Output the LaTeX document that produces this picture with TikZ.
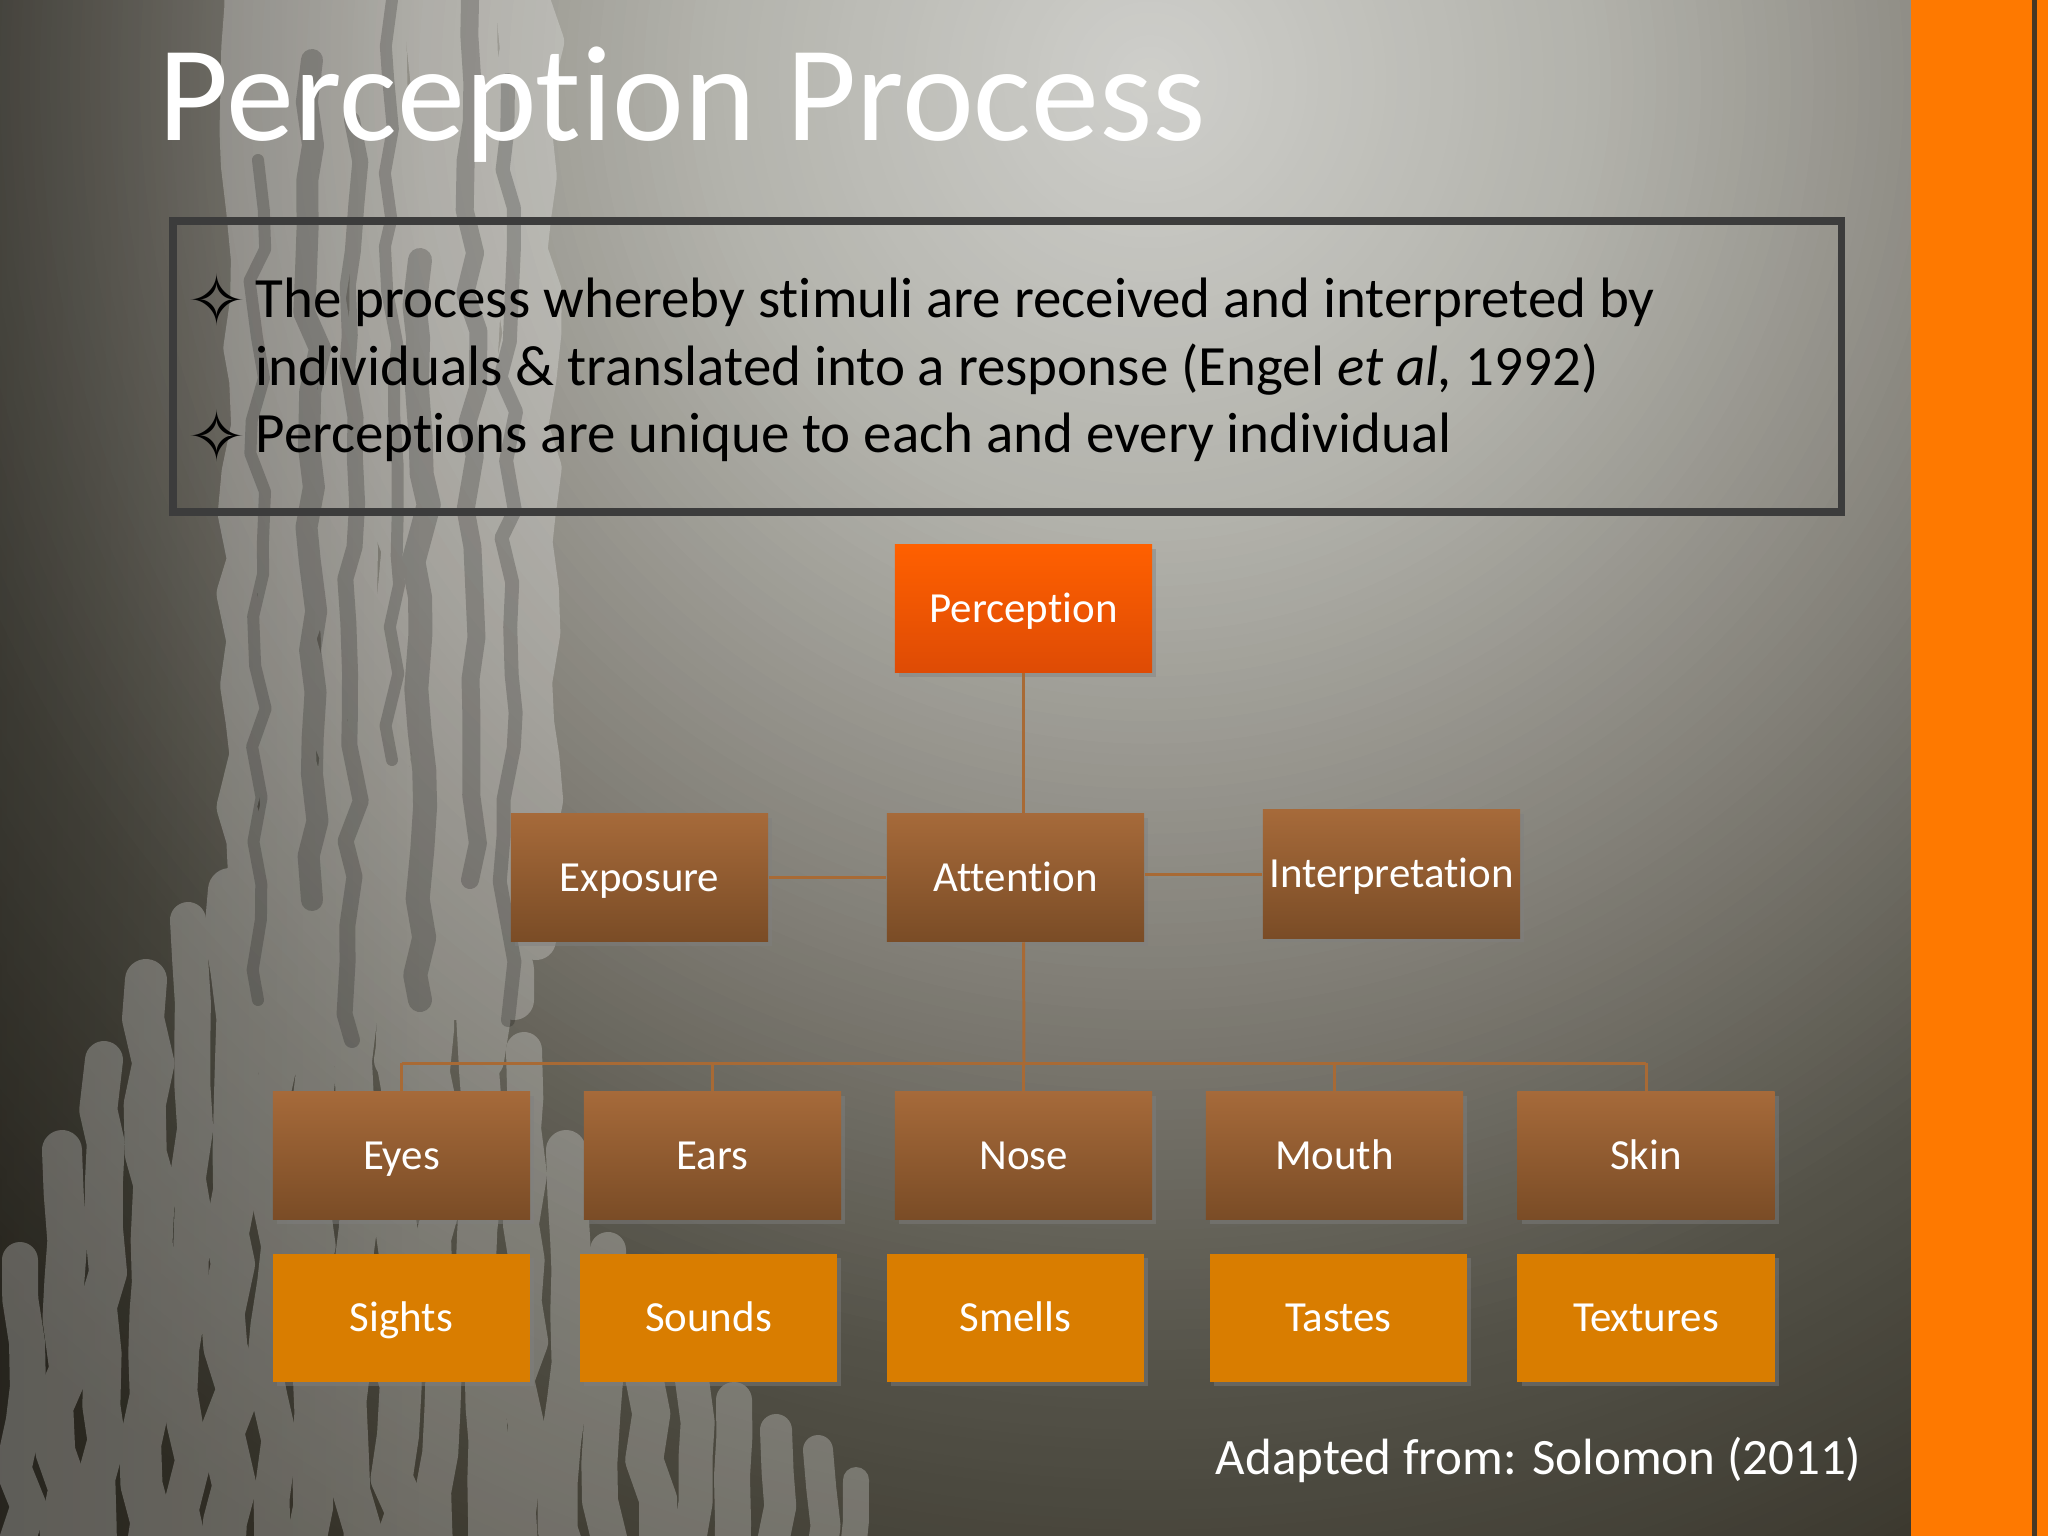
\documentclass[tikz,border=0pt]{standalone}
\usepackage{fontspec}
\setmainfont{Carlito}[Ligatures={NoCommon}]
\newfontfamily\symfont{DejaVu Sans}
\usetikzlibrary{
    positioning, calc, fadings,
    shadows, decorations.pathmorphing
}
\definecolor{colBgLight}{RGB}{207, 207, 203}
\definecolor{colBgMid}{RGB}{178, 178, 171}
\definecolor{colBgGrey}{RGB}{130, 127, 119}
\definecolor{colBgDark}{RGB}{84, 82, 72}
\definecolor{colBgDeep}{RGB}{56, 53, 43}
\definecolor{colBar}{RGB}{254, 121, 0}
\definecolor{colBarLine}{RGB}{70, 56, 36}
\definecolor{colFrame}{RGB}{60, 60, 60}
\definecolor{colTopA}{RGB}{255, 96, 0}
\definecolor{colTopB}{RGB}{222, 75, 5}
\definecolor{colBrownA}{RGB}{166, 106, 58}
\definecolor{colBrownB}{RGB}{122, 76, 38}
\definecolor{colSense}{RGB}{217, 125, 0}
\definecolor{colLink}{RGB}{168, 106, 53}

\tikzset{
    chartbox/.style={minimum width=2.57cm, minimum height=1.28cm, inner sep=0pt,
        text=white, font=\fontsize{12.2}{14}\selectfont, text height=7.8pt, text depth=0pt,
        drop shadow={shadow xshift=1.2pt, shadow yshift=-1.2pt, opacity=.45}},
    topbox/.style={chartbox, top color=colTopA, bottom color=colTopB},
    stagebox/.style={chartbox, top color=colBrownA, bottom color=colBrownB},
    sensebox/.style={chartbox, fill=colSense},
    link/.style={draw=colLink, line width=0.85pt},
    drip/.style={line cap=round, line join=round,
        decorate, decoration={random steps, segment length=12pt, amplitude=2.5pt}},
    bullettext/.style={anchor=base west, inner sep=0pt, font=\fontsize{16.2}{19}\selectfont},
    bulletmark/.style={inner sep=0pt, font=\symfont\fontsize{20}{20}\selectfont}
}

\begin{document}
\begin{tikzpicture}[x=0.01cm, y=-0.01cm]
    \useasboundingbox (0,0) rectangle (2048,1536);

    % --- background ---
    \begin{scope}
        \clip (0,0) rectangle (1911,1536);
        \fill[colBgDeep] (0,0) rectangle (1911,1536);
        % rings of the light spot
        \foreach \ro/\ri/\co/\ci in {1700/1300/colBgDeep/colBgDark, 1300/900/colBgDark/colBgGrey,
            900/450/colBgGrey/colBgMid, 450/0/colBgMid/colBgLight} {
            \foreach \k in {0,...,39} {
                \pgfmathsetmacro\rr{\ro-(\ro-\ri)/40*\k}
                \pgfmathtruncatemacro\pp{100-2.5*\k}
                \fill[\co!\pp!\ci] (1150,80) circle (\rr);
            }
        }
        \fill[black, fill opacity=.3, path fading=east] (0,0) rectangle (420,1536);
        \pgfmathsetseed{11}
        % light band (upper) and camouflage (lower)
        \begin{scope}[transparency group, opacity=.26]
            \foreach \x/\yb in {244/1000, 274/1060, 304/980, 334/1040, 364/1000, 394/1060,
                424/1020, 454/1000, 484/1060, 514/1000, 536/940} {
                \draw[drip, white, line width=0.4cm] (\x,-40) -- (\x,\yb);
            }
            \foreach \x/\ya/\w in {20/1260/36, 62/1150/40, 104/1060/38, 146/980/42, 188/920/36,
                230/890/44, 272/900/36, 314/870/40, 356/900/38, 398/880/42, 440/940/36,
                482/980/40, 524/1050/36, 566/1150/40, 608/1250/36, 650/1330/38, 692/1380/34,
                734/1400/36, 776/1430/32, 818/1450/30, 856/1480/26} {
                \draw[drip, white, line width=\w*0.01cm] (\x,\ya) -- (\x,1600);
            }
        \end{scope}
        % dark stripes inside the band
        \begin{scope}[transparency group, opacity=.2]
            \foreach \x/\ya/\yb/\w in {258/160/1000/12, 312/60/900/22, 352/120/1040/16,
                392/0/760/12, 420/260/1000/24, 470/0/880/18, 508/80/1020/14} {
                \draw[drip, black, line width=\w*0.01cm] (\x,\ya) -- (\x,\yb);
            }
        \end{scope}
    \end{scope}

    % --- orange side bar ---
    \fill[colBar] (1911,0) rectangle (2048,1536);
    \fill[colBarLine] (2032,0) rectangle (2037,1536);

    % --- title and definition box ---
    \node[anchor=base west, inner sep=0pt, text=white, font=\fontsize{38.7}{40}\selectfont] (title) at (158,140) {Perception Process};
    \draw[colFrame, line width=2pt] (173,221) rectangle (1841,512);
    \node[bulletmark] (bulA) at (217,300) {✧};
    \node[bulletmark] (bulB) at (217,436) {✧};
    \node[bullettext] (lineA) at (255,317) {The process whereby stimuli are received and interpreted by};
    \node[bullettext] (lineB) at (255,385) {individuals \& translated into a response (Engel \textit{et al,} 1992)};
    \node[bullettext] (lineC) at (255,452) {Perceptions are unique to each and every individual};

    % --- chart ---
    \node[topbox] (perc) at (1023.5,608.5) {Perception};
    \node[stagebox] (expo) at (639.5,877.5) {Exposure};
    \node[stagebox] (att) at (1015.5,877.5) {Attention};
    \node[stagebox] (interp) at (1391.5,874) {Interpretation};

    \node[stagebox] (eyes) at (401.5,1155.5) {Eyes};
    \node[stagebox] (ears) at (712.5,1155.5) {Ears};
    \node[stagebox] (nose) at (1023.5,1155.5) {Nose};
    \node[stagebox] (mouth) at (1334.5,1155.5) {Mouth};
    \node[stagebox] (skin) at (1646,1155.5) {Skin};

    \node[sensebox] (sights) at (401.5,1318) {Sights};
    \node[sensebox] (sounds) at (708.5,1318) {Sounds};
    \node[sensebox] (smells) at (1015.5,1318) {Smells};
    \node[sensebox] (tastes) at (1338.5,1318) {Tastes};
    \node[sensebox] (textures) at (1646,1318) {Textures};

    % connectors
    \coordinate (bus) at (1024,1063);
    \draw[link] (perc.south) -- (perc.south |- att.north);
    \draw[link] (expo.east) -- (att.west);
    \draw[link] (interp.west -| att.east) -- (interp.west);
    \draw[link] (perc.south |- att.south) -- (bus);
    \draw[link] (eyes.north |- bus) -- (skin.north |- bus);
    \foreach \n in {eyes, ears, nose, mouth, skin} {
        \draw[link] (\n.north |- bus) -- (\n.north);
    }

    \node[anchor=base west, inner sep=0pt, text=white, font=\fontsize{14.5}{16}\selectfont] (source) at (1215,1474) {Adapted from: Solomon (2011)};
\end{tikzpicture}
\end{document}
